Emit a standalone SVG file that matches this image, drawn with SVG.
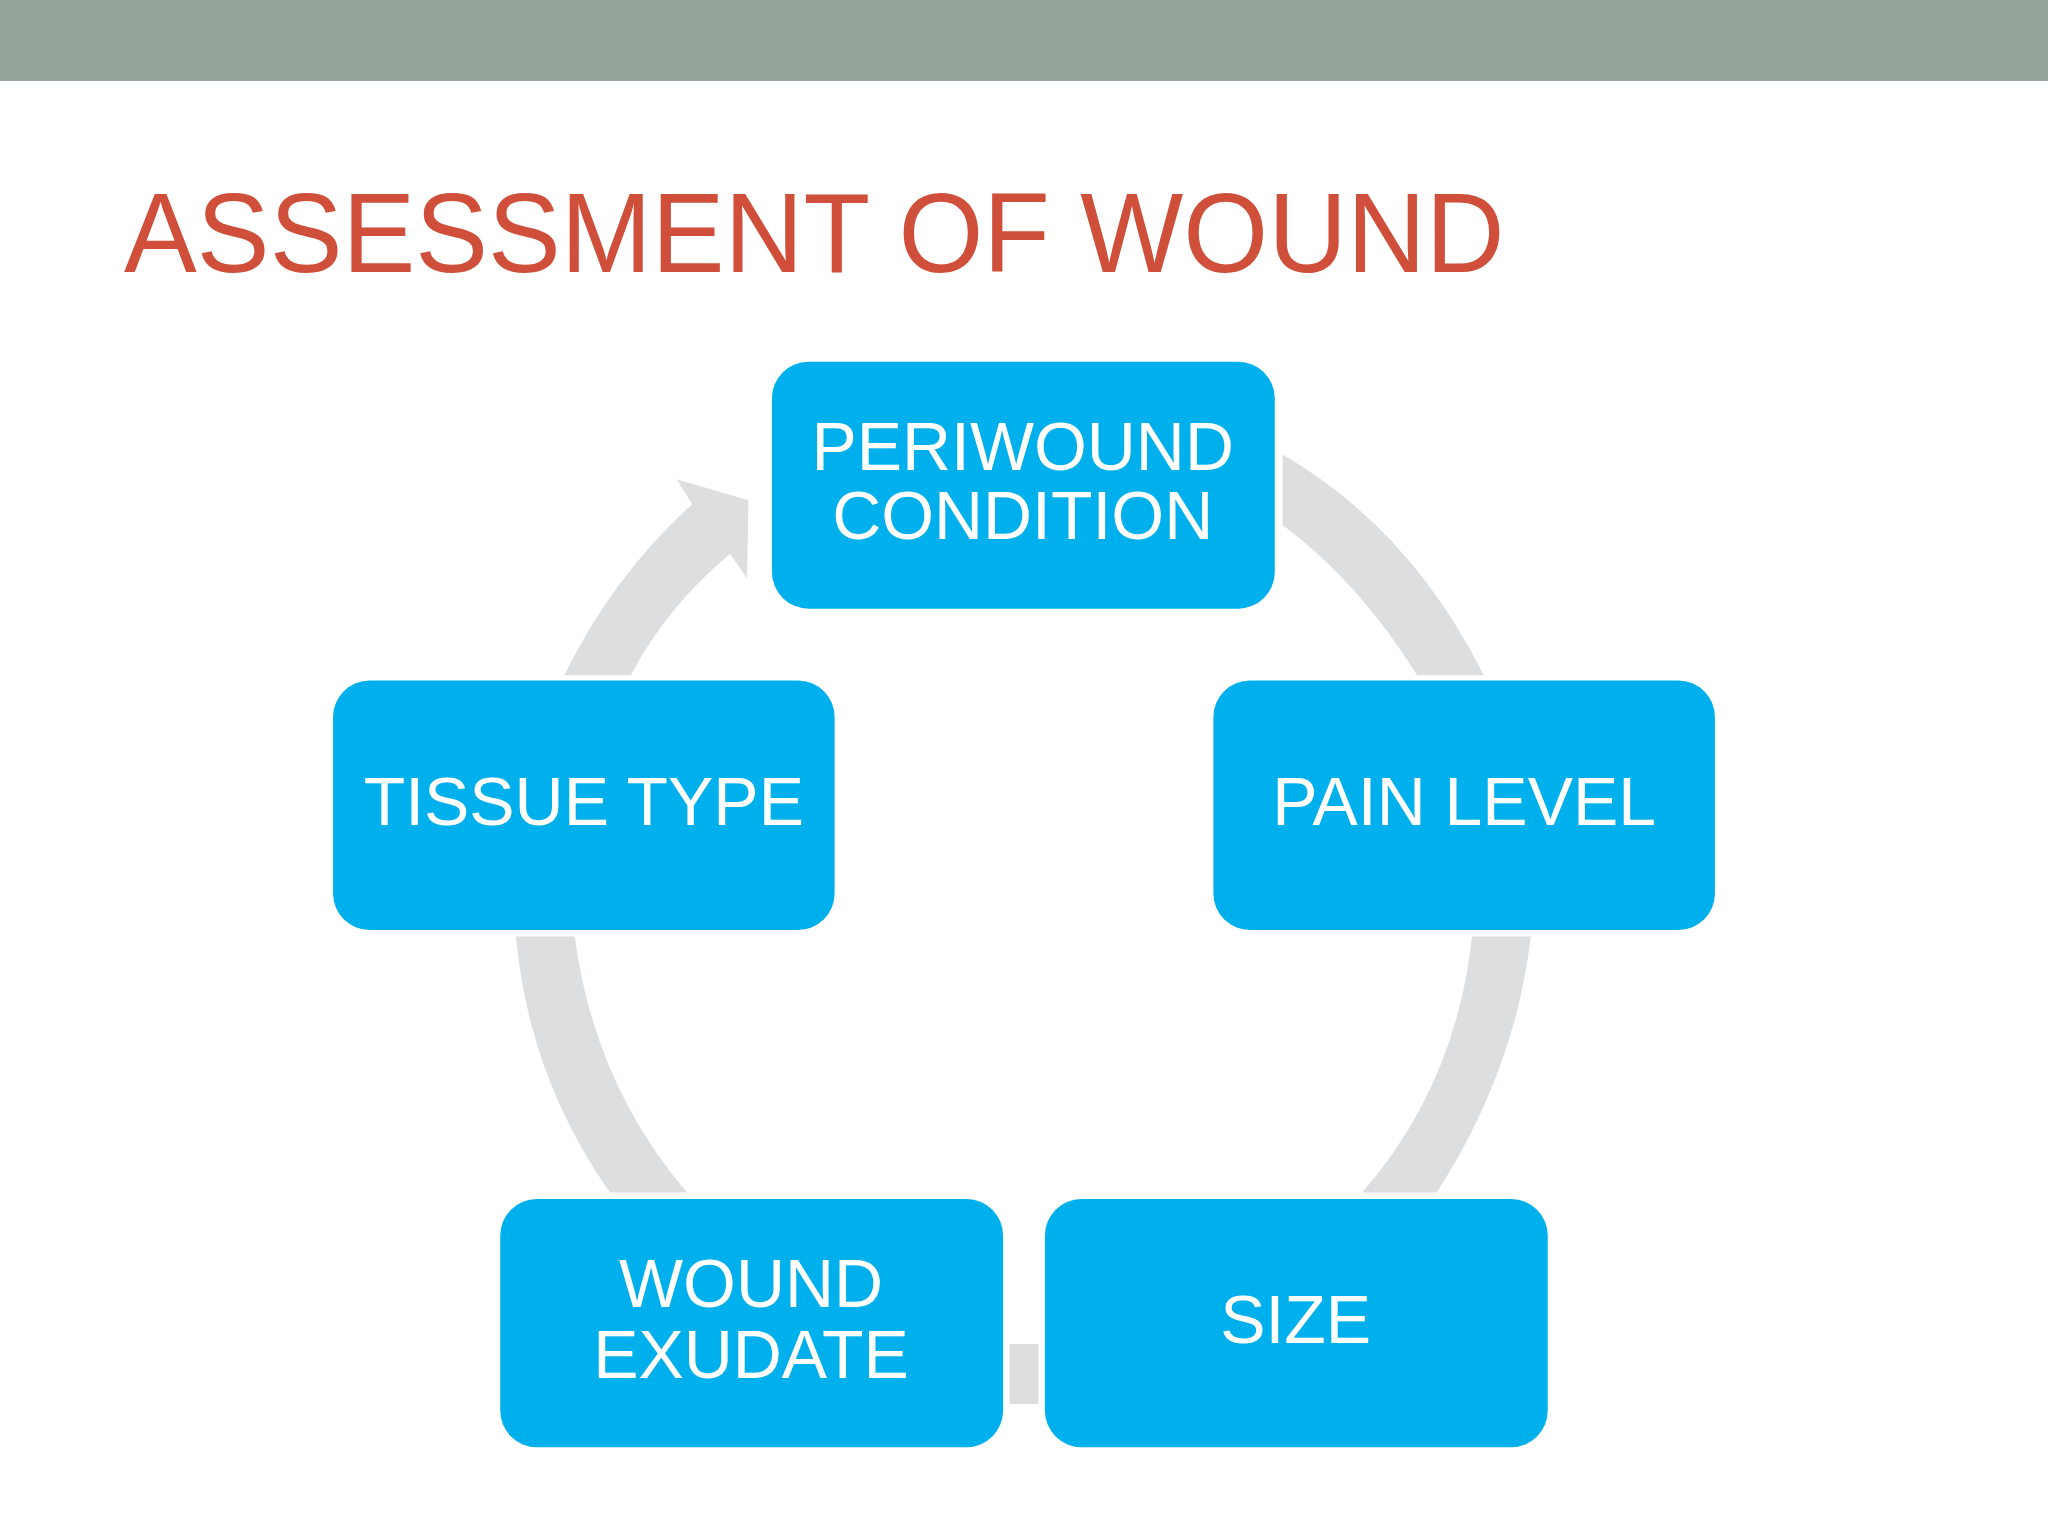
<svg xmlns="http://www.w3.org/2000/svg" width="2048" height="1536" viewBox="0 0 2048 1536">
<style>
.box{fill:#00B0EC}
.lbl{font-family:"Liberation Sans",Arial,sans-serif;font-size:52px;fill:#fff;text-anchor:middle}
.arc{fill:#DCDEDF}
</style>
<rect width="2048" height="1536" fill="#fff"/>
<g transform="scale(1.30612)">
<rect x="0" y="0" width="1568" height="62" fill="#93A39A"/>
<text x="95" y="208" font-family="'Liberation Sans',Arial,sans-serif" font-size="86" fill="#CF4F3A" textLength="1057" lengthAdjust="spacingAndGlyphs">ASSESSMENT OF WOUND</text>
<g id="connectors">
<path class="arc" d="M982,348 Q1080,405 1136,517 L1085,517 Q1040,445 982,402 Z"/>
<path class="arc" d="M1127,717 L1172,717 Q1160,820 1100,913 L1043,913 Q1115,830 1127,717 Z"/>
<rect class="arc" x="773" y="1029" width="22" height="46"/>
<path class="arc" d="M395,717 L440,717 Q455,830 526,913 L467,913 Q405,825 395,717 Z"/>
<path class="arc" d="M432,517 Q470,440 530,386 L518,367 L573,383 L572,443 L559,424 Q510,465 483,517 Z"/>
</g>
<g id="periwound"><rect class="box" x="591" y="277" width="385" height="189" rx="28"/><text class="lbl" x="783" y="360">PERIWOUND</text><text class="lbl" x="783" y="413">CONDITION</text></g>
<g id="pain"><rect class="box" x="929" y="521" width="384" height="191" rx="28"/><text class="lbl" x="1121" y="632">PAIN LEVEL</text></g>
<g id="size"><rect class="box" x="800" y="918" width="385" height="190" rx="28"/><text class="lbl" x="992" y="1028">SIZE</text></g>
<g id="exudate"><rect class="box" x="383" y="918" width="385" height="190" rx="28"/><text class="lbl" x="575" y="1001">WOUND</text><text class="lbl" x="575" y="1055">EXUDATE</text></g>
<g id="tissue"><rect class="box" x="255" y="521" width="384" height="191" rx="28"/><text class="lbl" x="447" y="632">TISSUE TYPE</text></g>
</g>
</svg>
